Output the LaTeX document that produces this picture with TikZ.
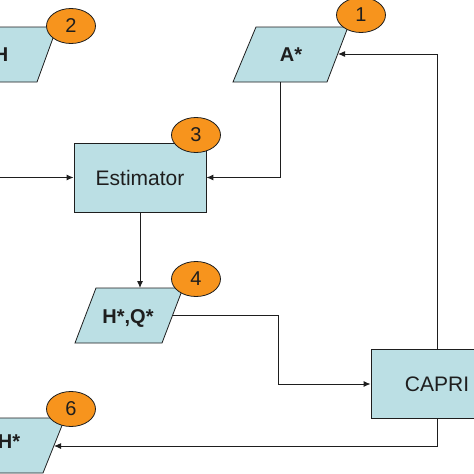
\documentclass[tikz,border=0pt]{standalone}
\usepackage{fontspec}
\setmainfont{Liberation Sans}
\usetikzlibrary{arrows.meta,shapes.geometric}
\definecolor{boxblue}{RGB}{187,223,228}
\definecolor{badgeor}{RGB}{247,148,29}
\definecolor{ink}{RGB}{30,30,30}
\begin{document}
\begin{tikzpicture}[x=1pt,y=-1pt,
  shp/.style={fill=boxblue, draw=ink, line width=0.8pt},
  procbox/.style={shp, rectangle, minimum width=132pt, minimum height=69pt, inner sep=0pt, font=\fontsize{21}{21}\selectfont, text=ink},
  lbl/.style={inner sep=0pt, font=\bfseries\fontsize{20}{20}\selectfont, text=ink},
  badge/.style={ellipse, fill=badgeor, draw=ink, line width=0.8pt, minimum width=49pt, minimum height=35pt, inner sep=0pt, font=\fontsize{20}{20}\selectfont, text=ink},
  conn/.style={line width=1pt, draw=ink, -{Latex[length=7pt,width=6pt]}}
]
\useasboundingbox (0,0) rectangle (474,474);
\clip (0,0) rectangle (474,474);
\fill[white] (0,0) rectangle (474,474);

% H (top left, partly cut)
\draw[shp] (-80,27) -- (57,27) -- (37,82) -- (-100,82) -- cycle;
\node[lbl] (H) at (1,55) {H};
\node[badge] (b2) at (71,26) {2};

% A*
\draw[shp] (256,27) -- (348,27) -- (327,82) -- (233,82) -- cycle;
\node[lbl] (A) at (291,55) {A*};
\coordinate (Abot) at (280,82);
\coordinate (Aright) at (338,54);
\node[badge] (b1) at (361,15) {1};

% Estimator
\node[procbox] (E) at (140,177.5) {Estimator};
\node[badge] (b3) at (196,135) {3};
\coordinate (Ein) at (0,177.5);

% H*,Q*
\draw[shp] (96,288) -- (183,288) -- (162,343) -- (75,343) -- cycle;
\node[lbl] (HQ) at (128,318) {H*,Q*};
\coordinate (HQtop) at (140,288);
\coordinate (HQright) at (173,315);
\node[badge] (b4) at (196,279) {4};

% CAPRI
\node[procbox] (C) at (437,384) {CAPRI};

% H* (bottom left, partly cut)
\draw[shp] (-60,418) -- (65,418) -- (43,473) -- (-80,473) -- cycle;
\node[lbl] (Hs) at (9,442) {H*};
\coordinate (Hsright) at (54,446);
\node[badge] (b6) at (71,409) {6};

% connectors
\draw[conn] (Ein) -- (E.west);
\draw[conn] (Abot) |- (E.east);
\draw[conn] (E.south -| HQtop) -- (HQtop);
\draw[conn] (HQright) -- (278,315) |- (C.west);
\draw[conn] (C.north) |- (Aright);
\draw[conn] (C.south) |- (Hsright);
\end{tikzpicture}
\end{document}
